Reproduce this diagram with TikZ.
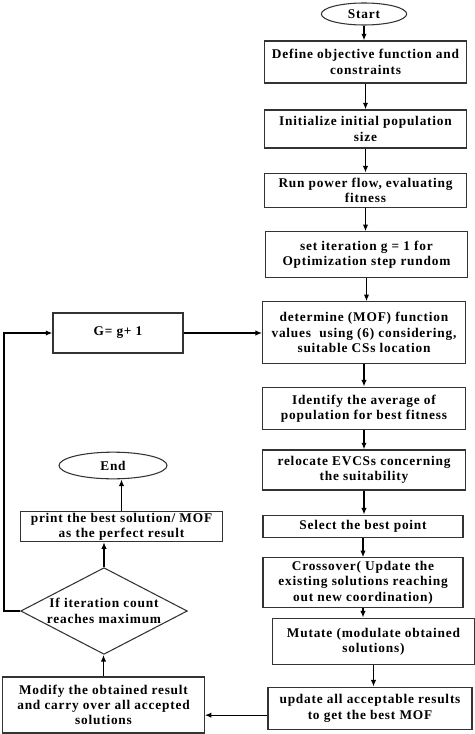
\documentclass[tikz,border=0pt]{standalone}
\usepackage{fontspec}
\setmainfont{Liberation Serif}
\newfontfamily\boxfont[LetterSpace=6]{Liberation Serif}
\usetikzlibrary{positioning, shapes.geometric, arrows.meta}

\begin{document}
\begin{tikzpicture}[x=0.75pt, y=-0.75pt,
    box/.style={draw=black!80, line width=0.8pt, align=center, font=\boxfont\bfseries\fontsize{10}{11.5}\selectfont, inner sep=1pt, minimum width=152pt},
    oval/.style={ellipse, draw=black!80, line width=0.8pt, font=\boxfont\bfseries, inner sep=0pt},
    arr/.style={-{Latex[length=5pt, width=4pt]}, line width=1pt}]
    \useasboundingbox (0,0) rectangle (474,734);

    % Main column
    \node[oval, minimum width=64pt, minimum height=16.5pt] (start) at (364,14) {Start};
    \node[box, minimum height=31.5pt] (define) at (365.5,62) {Define objective function and\\constraints};
    \node[box, minimum height=28.5pt] (init) at (365.5,129) {Initialize initial population\\size};
    \node[box, minimum height=26pt] (run) at (365.5,190.5) {Run power flow, evaluating\\fitness};
    \node[box, minimum height=34pt] (iter) at (366.5,254.5) {set iteration g = 1 for\\Optimization step rundom};
    \node[box, minimum height=46pt] (mof) at (364,332.5) {determine (MOF) function\\values\ \ using (6) considering,\\suitable CSs location};
    \node[box, minimum height=32pt] (avg) at (364,408.5) {Identify the average of\\population for best fitness};
    \node[box, minimum height=30pt] (reloc) at (364,470) {relocate EVCSs concerning\\the suitability};
    \node[box, minimum height=17pt, minimum width=150pt] (select) at (363,526.5) {Select the best point};
    \node[box, minimum height=37pt, minimum width=150pt] (cross) at (363,582.5) {Crossover( Update the\\existing solutions reaching\\out new coordination)};
    \node[box, minimum height=35pt] (mutate) at (373.5,641.5) {Mutate (modulate obtained\\solutions)};
    \node[box, minimum height=32pt, minimum width=153pt] (update) at (370,708.5) {update all acceptable results\\to get the best MOF};

    % Left column
    \node[box, minimum height=42pt, minimum width=151pt] (modify) at (103.5,705) {Modify the obtained result\\and carry over all accepted\\solutions};
    \node[box, diamond, aspect=2, inner sep=0pt, minimum width=125pt, minimum height=65pt] (decide) at (104,611) {If iteration count\\reaches maximum};
    \node[box, minimum height=22pt, minimum width=151pt] (print) at (121.5,526.5) {print the best solution/ MOF\\as the perfect result};
    \node[oval, minimum width=81pt, minimum height=20pt] (end) at (113,465.5) {End};
    \node[box, minimum height=30pt, minimum width=97.5pt] (gbox) at (118,333) {G= g+ 1};

    % Arrows down the main column
    \foreach \a/\b in {start/define, define/init, init/run, run/iter, iter/mof, mof/avg,
                       avg/reloc, reloc/select, select/cross, cross/mutate, mutate/update} {
      \draw[arr] (\a.south) -- (\a.south |- \b.north);
    }

    % Arrows up the left column
    \foreach \a/\b in {modify/decide, decide/print, print/end} {
      \draw[arr] (\a.north) -- (\a.north |- \b.south);
    }

    % Cross links and loop back
    \draw[arr] ([yshift=-5pt]update.west) -- ([yshift=-5pt]update.west -| modify.east);
    \draw[arr] (decide.west) -- ++(-16,0) |- (gbox.west);
    \draw[arr] (gbox.east) -- (gbox.east -| mof.west);

\end{tikzpicture}
\end{document}
